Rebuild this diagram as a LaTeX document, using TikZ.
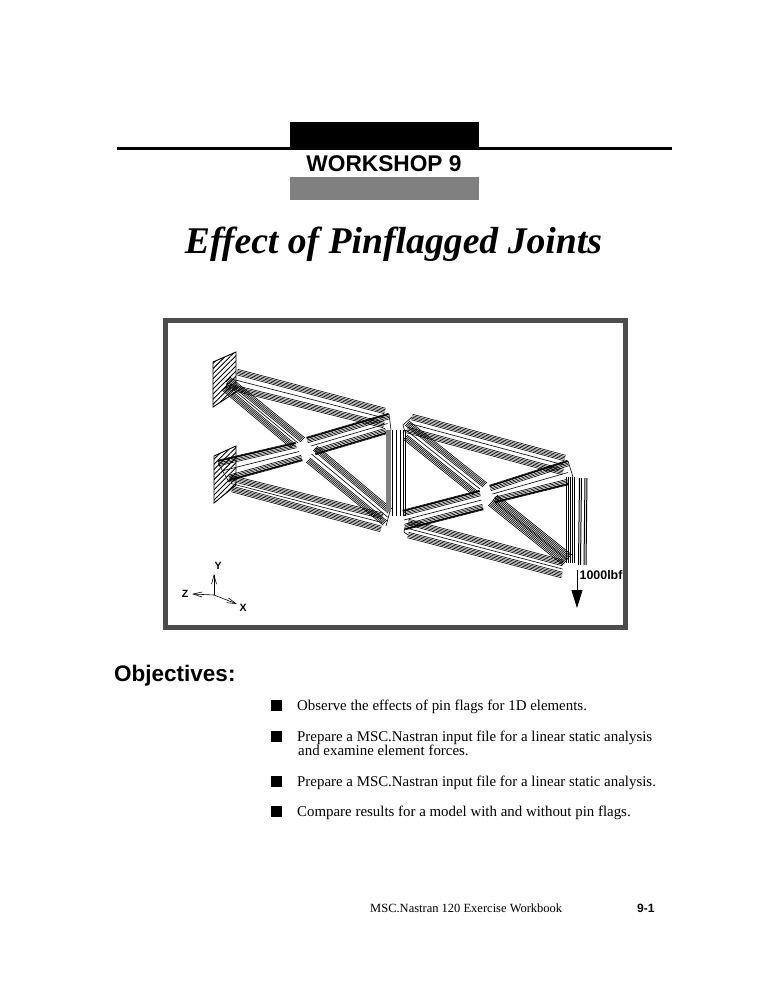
\documentclass[tikz,border=0pt]{standalone}
\usepackage{fontspec}
\setmainfont{Liberation Serif}
\setsansfont{Liberation Sans}
\usetikzlibrary{calc, patterns.meta, arrows.meta}
\newcommand{\flange}[2]{%
  \foreach \o in {-2.8,-1.4,0,1.4,2.8}{%
    \draw[strand] ($(#1)!\o pt!90:(#2)$) -- ($(#2)!\o pt!-90:(#1)$);
  }%
}
\newcommand{\member}[4]{%
  \flange{#1}{#2}
  \flange{#3}{#4}
  \draw[strand] ($(#1)!0.5!(#3)$) -- ($(#2)!0.5!(#4)$);
}
\definecolor{framegray}{gray}{0.3}
\definecolor{bandgray}{gray}{0.5}
\begin{document}
\begin{tikzpicture}[x=1pt, y=-1pt]
    \tikzset{
        strand/.style={line width=0.6pt, black}, % one line of a beam
        heavy/.style={line width=1.2pt, black}, % dark edge of a beam
        wall/.style={draw, line width=0.9pt, pattern={Lines[angle=45, distance=3.6pt, line width=0.9pt]}}, % hatched support
        post/.style={line width=1pt, black}, % vertical beams
        bullet/.style={fill=black, minimum size=11pt, inner sep=0pt}, % square mark
        item/.style={anchor=base west, inner sep=0pt, font=\fontsize{14.9}{17}\selectfont},
        axis/.style={-{Straight Barb[length=9pt, width=5pt]}, line width=0.6pt},
        axislabel/.style={inner sep=0pt, font=\sffamily\bfseries\fontsize{10.5}{12}\selectfont},
    }
    \useasboundingbox (0,0) rectangle (768,994);

    % header
    \node[fill=black, minimum width=189pt, minimum height=28pt, inner sep=0pt] (topbar) at (384.5,136) {};
    \node[fill=bandgray, minimum width=189pt, minimum height=23pt, inner sep=0pt] (lowbar) at (384.5,188.5) {};
    \coordinate (ruleleft) at (117,148);
    \coordinate (ruleright) at (672,148);
    \draw[line width=3pt] (ruleleft) -- (ruleright);
    \node[inner sep=0pt, font=\sffamily\bfseries\fontsize{22.7}{26}\selectfont] (workshop) at (384,164) {WORKSHOP 9};
    \node[anchor=base, inner sep=0pt, font=\bfseries\itshape\fontsize{37.7}{44}\selectfont] (title) at (393.5,253) {Effect of Pinflagged Joints};

    % frame
    \node[draw=framegray, line width=5pt, minimum width=460pt, minimum height=307pt, inner sep=0pt] (frame) at (395.5,474) {};

    % supports
    \draw[wall] (213,362) -- (236,352) -- (236,392) -- (213,407) -- cycle;
    \draw[wall] (214,456) -- (236,446) -- (236,485) -- (214,503) -- cycle;

    % first bay
    \member{237,372}{385,411}{226,386}{384,425}
    \member{230,478}{383,516}{232,489}{381,529}
    \member{228,379}{303,440}{224,388}{293,446}
    \member{308,460}{385,523}{315,448}{390,511}
    \member{218,463}{296,445}{229,478}{302,458}
    \member{307,440}{389,416}{315,452}{386,431}
    \draw[heavy] (218,461) -- (296,443);
    \draw[heavy] (229,480) -- (302,460);
    \draw[heavy] (307,438) -- (389,414);
    \draw[heavy] (315,454) -- (386,433);
    \draw[strand] (218,463) -- (229,482) -- (232,478);
    \draw[strand] (389,414) -- (391,430);
    \draw[strand] (390,511) -- (386,526);
    \node[circle, fill=white, minimum size=11pt, inner sep=0pt] (holeone) at (305,450) {};
    \draw[line width=5pt, gray] (388,430) -- (388,512);
    \foreach \x in {392,396,400,403,405}{
        \draw[post] (\x,430) -- (\x,516);
    }

    % second bay
    \member{412,417}{565,458}{407,430}{563,472}
    \member{408,522}{563,563}{408,535}{562,575}
    \member{407,423}{485,485}{405,437}{475,493}
    \member{490,503}{565,563}{495,497}{570,557}
    \member{403,513}{480,493}{405,527}{483,507}
    \member{490,488}{568,463}{495,500}{568,482}
    \draw[heavy] (403,511) -- (480,491);
    \draw[heavy] (405,529) -- (483,509);
    \draw[heavy] (490,486) -- (568,461);
    \draw[heavy] (495,502) -- (568,484);
    \draw[strand] (412,417) -- (403,425) -- (405,432);
    \draw[strand] (405,527) -- (404,532) -- (408,535);
    \draw[strand] (568,461) -- (573,477);
    \node[circle, fill=white, minimum size=11pt, inner sep=0pt] (holetwo) at (487,496) {};
    \foreach \x in {566,568,570,572,574}{
        \draw[post] (\x,477) -- (\x,563);
    }
    \foreach \x in {579.5,581.5,585,587}{
        \draw[post] (\x,478) -- (\x-1,565);
    }

    % load
    \node[anchor=base west, inner sep=0pt, font=\sffamily\bfseries\fontsize{12.4}{14}\selectfont] (load) at (579.5,579) {1000lbf};
    \coordinate (loadtop) at (577,570);
    \coordinate (loadend) at (577,608);
    \draw[line width=0.8pt, -{Triangle[length=18pt, width=11pt]}] (loadtop) -- (loadend);

    % triad
    \coordinate (origin) at (214,595);
    \node[axislabel] (axisy) at (218,566) {Y};
    \node[axislabel] (axisz) at (185,594) {Z};
    \node[axislabel] (axisx) at (243,608) {X};
    \draw[axis] (origin) -- (214,574);
    \draw[axis] (origin) -- (192,594);
    \draw[axis] (origin) -- (237,604);

    % objectives
    \node[anchor=base west, inner sep=0pt, font=\sffamily\bfseries\fontsize{22.5}{26}\selectfont] (objectives) at (114,681) {Objectives:};
    \node[bullet] (b1) at (276.5,705) {};
    \node[bullet] (b2) at (276.5,736) {};
    \node[bullet] (b3) at (276.5,781) {};
    \node[bullet] (b4) at (276.5,811.5) {};
    \node[item] (t1) at (297,710) {Observe the effects of pin flags for 1D elements.};
    \node[item] (t2) at (297,741) {Prepare a MSC.Nastran input file for a linear static analysis};
    \node[item] (t2b) at (298,755.5) {and examine element forces.};
    \node[item] (t3) at (297,786) {Prepare a MSC.Nastran input file for a linear static analysis.};
    \node[item] (t4) at (297,816.5) {Compare results for a model with and without pin flags.};

    % footer
    \node[anchor=base west, inner sep=0pt, font=\fontsize{12.5}{14}\selectfont] (foot) at (370,912) {MSC.Nastran 120 Exercise Workbook};
    \node[anchor=base west, inner sep=0pt, font=\sffamily\bfseries\fontsize{12}{14}\selectfont] (page) at (637,912) {9-1};
\end{tikzpicture}
\end{document}
